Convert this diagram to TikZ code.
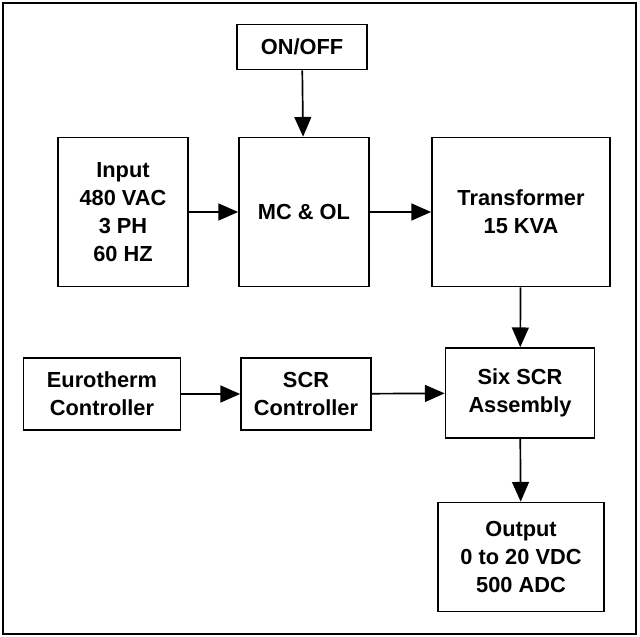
\documentclass[tikz,border=0pt]{standalone}
\usepackage{fontspec}
\setmainfont{Liberation Sans}
\usetikzlibrary{arrows.meta}
\tikzset{
  blk/.style={draw=black, line width=1.2pt, inner sep=0pt, align=center, font=\fontsize{15.5}{20}\selectfont\bfseries},
  arrow/.style={line width=1.2pt, -{Triangle[length=14pt, width=12pt]}}
}
\begin{document}
\begin{tikzpicture}[x=0.025cm, y=-0.025cm]
\useasboundingbox (0,0) rectangle (640,637);
\draw[line width=1.2pt] (3,3) rectangle (636,634);
\node (onoff) [blk, minimum width=130*0.025cm, minimum height=45*0.025cm] at (302,47) {ON/OFF};
\node (input) [blk, minimum width=130*0.025cm, minimum height=149*0.025cm] at (123,212) {Input\\480 VAC\\3 PH\\60 HZ};
\node (mc) [blk, minimum width=130*0.025cm, minimum height=149*0.025cm] at (304,212) {MC \& OL};
\node (tr) [blk, minimum width=178*0.025cm, minimum height=149*0.025cm] at (521,212) {Transformer\\15 KVA};
\node (euro) [blk, minimum width=157*0.025cm, minimum height=72*0.025cm] at (102,394) {Eurotherm\\Controller};
\node (scrc) [blk, minimum width=130*0.025cm, minimum height=72*0.025cm] at (306,394) {SCR\\Controller};
\node (six) [blk, minimum width=149*0.025cm, minimum height=90*0.025cm] at (520,393) {Six SCR\\Assembly};
\node (out) [blk, minimum width=166*0.025cm, minimum height=109*0.025cm] at (521,557) {Output\\0 to 20 VDC\\500 ADC};
\draw[arrow] (onoff) -- (mc);
\draw[arrow] (input) -- (mc);
\draw[arrow] (mc) -- (tr);
\draw[arrow] (tr) -- (six);
\draw[arrow] (euro) -- (scrc);
\draw[arrow] (scrc) -- (six);
\draw[arrow] (six) -- (out);
\end{tikzpicture}
\end{document}
